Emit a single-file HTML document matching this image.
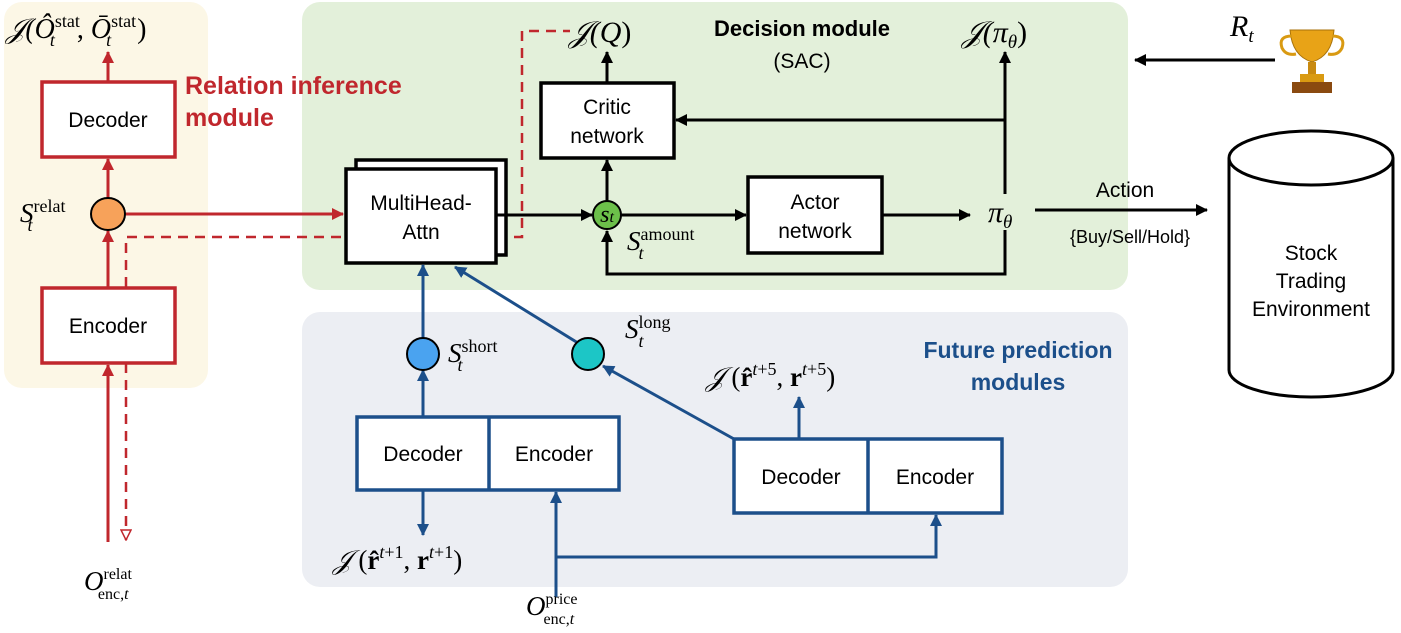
<!DOCTYPE html>
<html><head><meta charset="utf-8"><style>
html,body{margin:0;padding:0;background:#fff;}
svg{display:block;}
.s{font-family:"Liberation Sans",sans-serif;}
.m{font-family:"Liberation Serif",serif;}
</style></head><body>
<svg width="1401" height="633" viewBox="0 0 1401 633" xmlns="http://www.w3.org/2000/svg">
<defs>
<marker id="ar" markerWidth="12" markerHeight="12" refX="11" refY="6" orient="auto" markerUnits="userSpaceOnUse"><path d="M0,0 L12,6 L0,12 z" fill="#c0272d"/></marker>
<marker id="ak" markerWidth="12" markerHeight="12" refX="11" refY="6" orient="auto" markerUnits="userSpaceOnUse"><path d="M0,0 L12,6 L0,12 z" fill="#000"/></marker>
<marker id="ab" markerWidth="12" markerHeight="12" refX="11" refY="6" orient="auto" markerUnits="userSpaceOnUse"><path d="M0,0 L12,6 L0,12 z" fill="#1c4f8a"/></marker>
<marker id="ao" markerWidth="12" markerHeight="12" refX="11" refY="6" orient="auto" markerUnits="userSpaceOnUse"><path d="M1,1 L11,6 L1,11 z" fill="#fff" stroke="#c0272d" stroke-width="1.5"/></marker>
</defs>
<!-- panels -->
<rect x="4" y="2" width="204" height="386" rx="18" fill="#fcf7e6"/>
<rect x="302" y="2" width="826" height="288" rx="18" fill="#e3f0da"/>
<rect x="302" y="312" width="826" height="275" rx="18" fill="#eceef3"/>

<!-- relation module -->
<g stroke="#c0272d" stroke-width="2.5" fill="none" stroke-dasharray="10,7">
<polyline points="126,287 126,237 345,237"/>
<line x1="126" y1="363" x2="126" y2="540" marker-end="url(#ao)"/>
<polyline points="497,237 522,237 522,31 570,31"/>
</g>
<g stroke="#c0272d" stroke-width="3.5" fill="#fff">
<rect x="42" y="82" width="133" height="75"/>
<rect x="42" y="288" width="133" height="75"/>
</g>
<g stroke="#c0272d" stroke-width="3" fill="none">
<line x1="108" y1="82" x2="108" y2="52" marker-end="url(#ar)"/>
<line x1="108" y1="199" x2="108" y2="159" marker-end="url(#ar)"/>
<line x1="108" y1="288" x2="108" y2="231" marker-end="url(#ar)"/>
<line x1="108" y1="542" x2="108" y2="365" marker-end="url(#ar)"/>
<line x1="125" y1="214" x2="343" y2="214" marker-end="url(#ar)"/>
</g>
<ellipse cx="108" cy="214" rx="17" ry="16" fill="#f7a25a" stroke="#000" stroke-width="2"/>
<text x="108" y="127" text-anchor="middle" class="s" font-size="21">Decoder</text>
<text x="108" y="333" text-anchor="middle" class="s" font-size="21">Encoder</text>
<text x="185" y="94" class="s" font-size="25" font-weight="bold" fill="#c0272d">Relation inference</text>
<text x="185" y="126" class="s" font-size="25" font-weight="bold" fill="#c0272d">module</text>
<text x="6" y="38" class="m" font-size="28" font-style="italic">𝒥(Ô<tspan font-size="18" dy="-11" font-style="normal">stat</tspan><tspan font-size="18" dx="-30" dy="19">t</tspan><tspan dx="22" dy="-8" font-style="normal">, </tspan>Ō<tspan font-size="18" dy="-11" font-style="normal">stat</tspan><tspan font-size="18" dx="-30" dy="19">t</tspan><tspan dx="26" dy="-8" font-style="normal">)</tspan></text>
<text x="20" y="222" class="m" font-size="27" font-style="italic">S<tspan font-size="18" dy="-10" font-style="normal">relat</tspan><tspan font-size="18" dx="-38" dy="19">t</tspan></text>
<text x="84" y="590" class="m" font-size="27" font-style="italic">O<tspan font-size="16" dy="-11" font-style="normal">relat</tspan><tspan font-size="16" dx="-34" dy="20" font-style="normal">enc,<tspan font-style="italic">t</tspan></tspan></text>

<!-- decision module -->
<g stroke="#000" stroke-width="3.5" fill="#fff">
<rect x="356" y="160" width="150" height="95"/>
<rect x="346" y="169" width="150" height="94"/>
<rect x="541" y="83" width="133" height="75"/>
<rect x="748" y="177" width="134" height="76"/>
</g>
<text x="421" y="210" text-anchor="middle" class="s" font-size="21">MultiHead-</text>
<text x="421" y="239" text-anchor="middle" class="s" font-size="21">Attn</text>
<text x="607" y="114" text-anchor="middle" class="s" font-size="21">Critic</text>
<text x="607" y="143" text-anchor="middle" class="s" font-size="21">network</text>
<text x="815" y="209" text-anchor="middle" class="s" font-size="21">Actor</text>
<text x="815" y="238" text-anchor="middle" class="s" font-size="21">network</text>
<g stroke="#000" stroke-width="3" fill="none">
<line x1="496" y1="215" x2="592" y2="215" marker-end="url(#ak)"/>
<line x1="607" y1="201" x2="607" y2="160" marker-end="url(#ak)"/>
<line x1="607" y1="83" x2="607" y2="52" marker-end="url(#ak)"/>
<line x1="621" y1="215" x2="746" y2="215" marker-end="url(#ak)"/>
<line x1="882" y1="215" x2="970" y2="215" marker-end="url(#ak)"/>
<line x1="1005" y1="194" x2="1005" y2="52" marker-end="url(#ak)"/>
<line x1="1005" y1="120" x2="676" y2="120" marker-end="url(#ak)"/>
<polyline points="1005,230 1005,274 607,274 607,231" marker-end="url(#ak)"/>
<line x1="1035" y1="210" x2="1207" y2="210" marker-end="url(#ak)"/>
<line x1="1275" y1="60" x2="1135" y2="60" marker-end="url(#ak)"/>
</g>
<circle cx="607" cy="215" r="14" fill="#6cc04a" stroke="#000" stroke-width="2"/>
<text x="607" y="222" text-anchor="middle" class="m" font-size="24" font-style="italic">s<tspan font-size="16">t</tspan></text>
<text x="569" y="42" class="m" font-size="30" font-style="italic">𝒥(Q<tspan font-style="normal">)</tspan></text>
<text x="962" y="42" class="m" font-size="30" font-style="italic">𝒥(π<tspan font-size="19" dy="6">θ</tspan><tspan font-style="normal" dy="-6">)</tspan></text>
<text x="988" y="222" class="m" font-size="30" font-style="italic">π<tspan font-size="19" dy="6">θ</tspan></text>
<text x="627" y="250" class="m" font-size="27" font-style="italic">S<tspan font-size="18" dy="-10" font-style="normal">amount</tspan><tspan font-size="18" dx="-56" dy="19">t</tspan></text>
<text x="802" y="36" text-anchor="middle" class="s" font-size="22" font-weight="bold">Decision module</text>
<text x="802" y="68" text-anchor="middle" class="s" font-size="21">(SAC)</text>
<text x="1125" y="197" text-anchor="middle" class="s" font-size="21">Action</text>
<text x="1130" y="243" text-anchor="middle" class="s" font-size="18">{Buy/Sell/Hold}</text>

<!-- reward and trophy -->
<text x="1230" y="36" class="m" font-size="30" font-style="italic">R<tspan font-size="19" dy="6">t</tspan></text>
<g>
<path d="M1290,30 h44 q-2,26 -22,32 q-20,-6 -22,-32z" fill="#e8a317" stroke="#a8720a" stroke-width="1"/>
<path d="M1292,36 q-14,0 -10,12 q4,8 14,6" fill="none" stroke="#d99a12" stroke-width="3"/>
<path d="M1332,36 q14,0 10,12 q-4,8 -14,6" fill="none" stroke="#d99a12" stroke-width="3"/>
<rect x="1308" y="62" width="8" height="14" fill="#c98a10"/>
<rect x="1300" y="74" width="24" height="8" fill="#d99a12"/>
<rect x="1292" y="82" width="40" height="11" fill="#8a4a10"/>
</g>

<!-- cylinder -->
<path d="M1229,158 L1229,370 A82,27 0 0 0 1393,370 L1393,158" fill="#fff" stroke="#000" stroke-width="3"/>
<ellipse cx="1311" cy="158" rx="82" ry="27" fill="#fff" stroke="#000" stroke-width="3"/>
<text x="1311" y="260" text-anchor="middle" class="s" font-size="21">Stock</text>
<text x="1311" y="288" text-anchor="middle" class="s" font-size="21">Trading</text>
<text x="1311" y="316" text-anchor="middle" class="s" font-size="21">Environment</text>

<!-- future prediction -->
<g stroke="#1c4f8a" stroke-width="3.5" fill="#fff">
<rect x="357" y="417" width="262" height="73"/>
<line x1="489" y1="417" x2="489" y2="490"/>
<rect x="734" y="439" width="268" height="74"/>
<line x1="868" y1="439" x2="868" y2="513"/>
</g>
<text x="423" y="461" text-anchor="middle" class="s" font-size="21">Decoder</text>
<text x="554" y="461" text-anchor="middle" class="s" font-size="21">Encoder</text>
<text x="801" y="484" text-anchor="middle" class="s" font-size="21">Decoder</text>
<text x="935" y="484" text-anchor="middle" class="s" font-size="21">Encoder</text>
<g stroke="#1c4f8a" stroke-width="3" fill="none">
<line x1="423" y1="417" x2="423" y2="370" marker-end="url(#ab)"/>
<line x1="423" y1="338" x2="423" y2="265" marker-end="url(#ab)"/>
<line x1="734" y1="439" x2="603" y2="366" marker-end="url(#ab)"/>
<line x1="578" y1="343" x2="455" y2="267" marker-end="url(#ab)"/>
<line x1="799" y1="439" x2="799" y2="397" marker-end="url(#ab)"/>
<line x1="423" y1="490" x2="423" y2="535" marker-end="url(#ab)"/>
<line x1="556" y1="597" x2="556" y2="492" marker-end="url(#ab)"/>
<polyline points="556,557 936,557 936,515" marker-end="url(#ab)"/>
</g>
<circle cx="423" cy="354" r="16" fill="#4aa3f0" stroke="#000" stroke-width="2"/>
<circle cx="588" cy="354" r="16" fill="#1cc6c6" stroke="#000" stroke-width="2"/>
<text x="448" y="362" class="m" font-size="27" font-style="italic">S<tspan font-size="18" dy="-10" font-style="normal">short</tspan><tspan font-size="18" dx="-40" dy="19">t</tspan></text>
<text x="625" y="338" class="m" font-size="27" font-style="italic">S<tspan font-size="18" dy="-10" font-style="normal">long</tspan><tspan font-size="18" dx="-32" dy="19">t</tspan></text>
<text x="1018" y="358" text-anchor="middle" class="s" font-size="23" font-weight="bold" fill="#1c4f8a">Future prediction</text>
<text x="1018" y="390" text-anchor="middle" class="s" font-size="23" font-weight="bold" fill="#1c4f8a">modules</text>
<text x="706" y="386" class="m" font-size="27"><tspan font-style="italic">𝒥</tspan> (<tspan font-weight="bold">r̂</tspan><tspan font-size="18" dy="-11" font-style="italic">t</tspan><tspan font-size="18">+5</tspan><tspan dy="11">, </tspan><tspan font-weight="bold">r</tspan><tspan font-size="18" dy="-11" font-style="italic">t</tspan><tspan font-size="18">+5</tspan><tspan dy="11">)</tspan></text>
<text x="333" y="569" class="m" font-size="27"><tspan font-style="italic">𝒥</tspan> (<tspan font-weight="bold">r̂</tspan><tspan font-size="18" dy="-11" font-style="italic">t</tspan><tspan font-size="18">+1</tspan><tspan dy="11">, </tspan><tspan font-weight="bold">r</tspan><tspan font-size="18" dy="-11" font-style="italic">t</tspan><tspan font-size="18">+1</tspan><tspan dy="11">)</tspan></text>
<text x="526" y="615" class="m" font-size="27" font-style="italic">O<tspan font-size="16" dy="-11" font-style="normal">price</tspan><tspan font-size="16" dx="-34" dy="20" font-style="normal">enc,<tspan font-style="italic">t</tspan></tspan></text>
</svg>
</body></html>
